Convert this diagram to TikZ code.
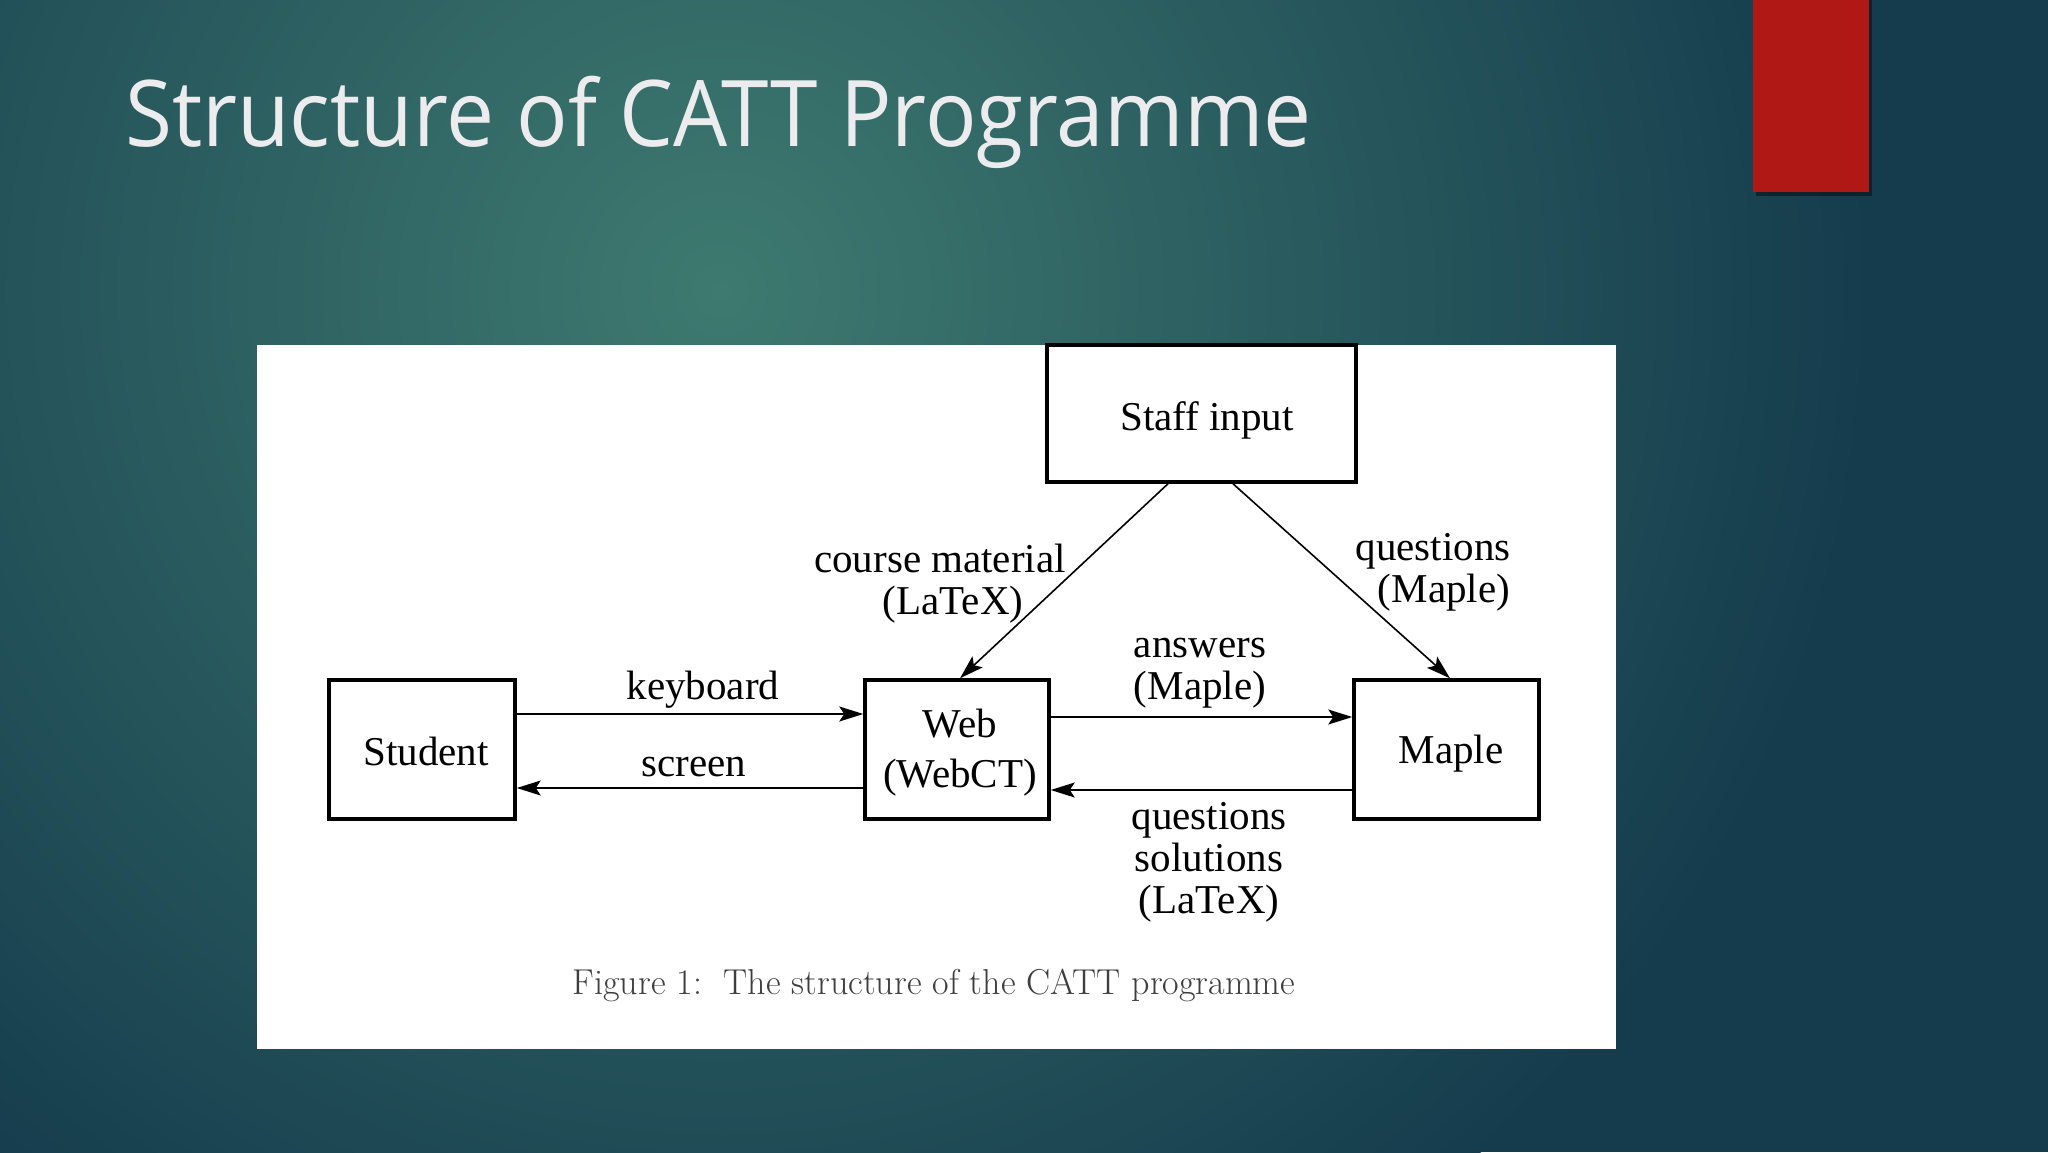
\documentclass[tikz,border=0pt]{standalone}
\usepackage{fontspec}
\setmainfont{Liberation Serif}
\newfontfamily\titlefont{Open Sans}
\newfontfamily\capfont{Latin Modern Roman}
\usetikzlibrary{arrows.meta,calc}
\definecolor{bgdark}{RGB}{21,60,77}
\definecolor{bglight}{RGB}{62,122,112}
\definecolor{slidered}{RGB}{176,24,22}
\definecolor{titlecol}{RGB}{236,236,238}
\definecolor{capcol}{RGB}{62,62,62}
\tikzset{
  box/.style={draw=black, line width=3.5pt, fill=white, inner sep=0pt},
  lbl/.style={font=\fontsize{41}{42}\selectfont, align=center, inner sep=0pt, text=black},
  conn/.style={line width=1.6pt, -{Stealth[length=24pt,width=15pt,inset=5pt]}}
}
\begin{document}
\begin{tikzpicture}[x=1pt,y=-1pt]
\useasboundingbox (0,0) rectangle (2048,1152);
\fill[bgdark] (0,0) rectangle (2048,1152);
\begin{scope}
\clip (0,0) rectangle (2048,1152);
\shade[inner color=bglight, outer color=bgdark] (720,290) circle (1150);
\end{scope}
% red tab
\fill[black!70!bgdark, opacity=0.6] (1756,0) rectangle (1872,196);
\fill[slidered] (1753,0) rectangle (1869,192);
% title
\node[anchor=base west, inner sep=0pt, text=titlecol, font=\titlefont\fontsize{92}{110}\selectfont] (title) at (125,146) {\scalebox{0.93}[1]{Structure of CATT Programme}};
% white panel
\fill[white] (257,345) rectangle (1616,1049);
% boxes
\node[box, minimum width=309pt, minimum height=137pt] (staff) at (1201.5,413.5) {};
\node[box, minimum width=186pt, minimum height=139pt] (stu) at (422,749.5) {};
\node[box, minimum width=184pt, minimum height=139pt] (web) at (957,749.5) {};
\node[box, minimum width=185pt, minimum height=139pt] (maple) at (1446.5,749.5) {};
% box texts
\node[lbl] (tstaff) at (1207,420) {Staff input};
\node[lbl] (tstu) at (426,751) {Student};
\node[lbl, font=\fontsize{41}{50}\selectfont] (tweb) at (960,753) {Web\\(WebCT)};
\node[lbl] (tmaple) at (1451,754) {Maple};
% connectors
\draw[conn] ([yshift=35.5pt]stu.east) -- ([yshift=35.5pt]web.west);
\draw[conn] ([yshift=-38.5pt]web.west) -- ([yshift=-38.5pt]stu.east);
\draw[conn] ([yshift=32.5pt]web.east) -- ([yshift=32.5pt]maple.west);
\draw[conn] ([yshift=-40.5pt]maple.west) -- ([yshift=-40.5pt]web.east);
\draw[conn] ([xshift=-33.5pt]staff.south) -- ([xshift=3pt]web.north);
\draw[conn] ([xshift=31.5pt]staff.south) -- ([xshift=3.5pt]maple.north);
% labels
\node[lbl] (lkey) at (703,690) {keyboard};
\node[lbl] (lscr) at (694,767) {screen};
\node[lbl] (lans) at (1200,673) {answers\\(Maple)};
\node[lbl] (lqs) at (1209,862) {questions\\solutions\\(LaTeX)};
\node[lbl] (lcm) at (940,584) {course material\\\hspace*{26pt}(LaTeX)};
\node[lbl] (lqm) at (1433,572) {questions\\\hspace*{22pt}(Maple)};
% caption
\node[anchor=base, inner sep=0pt, text=capcol, font=\capfont\fontsize{36}{40}\selectfont] (cap) at (934,994) {Figure 1:\ \ The structure of the CATT programme};
\end{tikzpicture}
\end{document}
